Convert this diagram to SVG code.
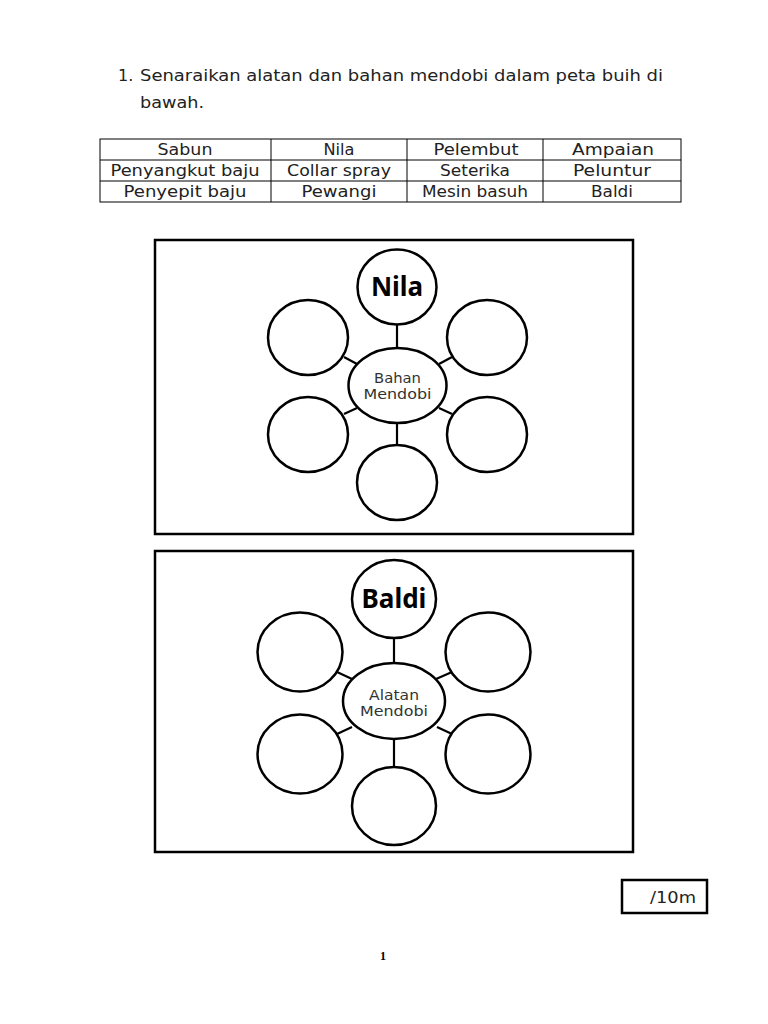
<svg xmlns="http://www.w3.org/2000/svg" width="768" height="1024" viewBox="0 0 768 1024">
<style>
.t{font-family:"DejaVu Sans","Liberation Sans",sans-serif;font-size:15px;fill:#222;}
.q{font-family:"DejaVu Sans","Liberation Sans",sans-serif;font-size:16px;fill:#222;}
.cell{text-anchor:middle;}
.bub{fill:#fff;stroke:#000;stroke-width:2.5;}
.frame{fill:none;stroke:#000;stroke-width:2.5;}
.con line{stroke:#000;stroke-width:2.2;}
.hub{font-family:"DejaVu Sans","Liberation Sans",sans-serif;font-size:14px;fill:#333;text-anchor:middle;}
.big{font-family:"Noto Sans","Open Sans",sans-serif;font-weight:bold;font-size:26px;fill:#000;text-anchor:middle;}
.grid{stroke:#000;stroke-width:1;fill:none;}
</style>
<rect width="768" height="1024" fill="#fff"/>
<g id="question">
<text class="q" x="118" y="81">1.</text>
<text class="q" x="140" y="81" textLength="523" lengthAdjust="spacingAndGlyphs">Senaraikan alatan dan bahan mendobi dalam peta buih di</text>
<text class="q" x="140" y="108" textLength="64" lengthAdjust="spacingAndGlyphs">bawah.</text>
</g>
<g id="table">
<rect class="grid" x="100" y="139" width="581" height="63"/>
<line class="grid" x1="100" y1="160" x2="681" y2="160"/>
<line class="grid" x1="100" y1="181" x2="681" y2="181"/>
<line class="grid" x1="271" y1="139" x2="271" y2="202"/>
<line class="grid" x1="407" y1="139" x2="407" y2="202"/>
<line class="grid" x1="543" y1="139" x2="543" y2="202"/>
<text class="t cell" x="185" y="155" textLength="55" lengthAdjust="spacingAndGlyphs">Sabun</text>
<text class="t cell" x="339" y="155" textLength="31" lengthAdjust="spacingAndGlyphs">Nila</text>
<text class="t cell" x="476" y="155" textLength="85" lengthAdjust="spacingAndGlyphs">Pelembut</text>
<text class="t cell" x="613" y="155" textLength="82" lengthAdjust="spacingAndGlyphs">Ampaian</text>
<text class="t cell" x="185" y="176" textLength="149" lengthAdjust="spacingAndGlyphs">Penyangkut baju</text>
<text class="t cell" x="339" y="176" textLength="104" lengthAdjust="spacingAndGlyphs">Collar spray</text>
<text class="t cell" x="475" y="176" textLength="70" lengthAdjust="spacingAndGlyphs">Seterika</text>
<text class="t cell" x="612" y="176" textLength="78" lengthAdjust="spacingAndGlyphs">Peluntur</text>
<text class="t cell" x="185" y="197" textLength="123" lengthAdjust="spacingAndGlyphs">Penyepit baju</text>
<text class="t cell" x="339" y="197" textLength="75" lengthAdjust="spacingAndGlyphs">Pewangi</text>
<text class="t cell" x="475" y="197" textLength="106" lengthAdjust="spacingAndGlyphs">Mesin basuh</text>
<text class="t cell" x="612" y="197" textLength="42" lengthAdjust="spacingAndGlyphs">Baldi</text>
</g>
<rect id="frame1" class="frame" x="155" y="240" width="478" height="294"/>
<g class="con" id="connectors1">
<line x1="397" y1="325" x2="397" y2="348"/>
<line x1="344" y1="357" x2="357" y2="364"/>
<line x1="439" y1="364" x2="452" y2="357"/>
<line x1="344" y1="414" x2="357" y2="408"/>
<line x1="439" y1="408" x2="452" y2="414"/>
<line x1="397" y1="423" x2="397" y2="445"/>
</g>
<g id="nila"><ellipse class="bub" cx="397" cy="287" rx="39.5" ry="37.5"/><text class="big" x="397" y="296">Nila</text></g>
<g id="bahan"><ellipse class="bub" cx="397.5" cy="385.5" rx="49" ry="37.5"/><text class="hub" x="397.5" y="383" textLength="47" lengthAdjust="spacingAndGlyphs">Bahan</text><text class="hub" x="397.5" y="399" textLength="68" lengthAdjust="spacingAndGlyphs">Mendobi</text></g>
<g id="b1ul"><ellipse class="bub" cx="308" cy="337.5" rx="40" ry="37.5"/></g>
<g id="b1ur"><ellipse class="bub" cx="487" cy="337.5" rx="40" ry="37.5"/></g>
<g id="b1ll"><ellipse class="bub" cx="308" cy="434.5" rx="40" ry="37.5"/></g>
<g id="b1lr"><ellipse class="bub" cx="487" cy="434.5" rx="40" ry="37.5"/></g>
<g id="b1b"><ellipse class="bub" cx="397" cy="482.5" rx="40" ry="37.5"/></g>
<rect id="frame2" class="frame" x="155" y="551" width="478" height="301"/>
<g class="con" id="connectors2">
<line x1="394" y1="638" x2="394" y2="663"/>
<line x1="337" y1="672" x2="352" y2="679"/>
<line x1="436" y1="679" x2="452" y2="672"/>
<line x1="337" y1="734" x2="352" y2="727"/>
<line x1="437" y1="727" x2="452" y2="734"/>
<line x1="394" y1="739" x2="394" y2="767"/>
</g>
<g id="baldi"><ellipse class="bub" cx="394" cy="599" rx="42" ry="39"/><text class="big" x="394" y="608">Baldi</text></g>
<g id="alatan"><ellipse class="bub" cx="394" cy="701" rx="51" ry="38"/><text class="hub" x="394" y="700" textLength="50" lengthAdjust="spacingAndGlyphs">Alatan</text><text class="hub" x="394" y="716" textLength="68" lengthAdjust="spacingAndGlyphs">Mendobi</text></g>
<g id="b2ul"><ellipse class="bub" cx="300" cy="652" rx="42.5" ry="39.5"/></g>
<g id="b2ur"><ellipse class="bub" cx="488" cy="652" rx="42.5" ry="39.5"/></g>
<g id="b2ll"><ellipse class="bub" cx="300" cy="754" rx="42.5" ry="39.5"/></g>
<g id="b2lr"><ellipse class="bub" cx="488" cy="754" rx="42.5" ry="39.5"/></g>
<g id="b2b"><ellipse class="bub" cx="394" cy="806" rx="42" ry="39"/></g>
<g id="score"><rect x="622" y="880" width="85" height="33" fill="none" stroke="#000" stroke-width="2.5"/><text class="q" x="650" y="903" textLength="46" lengthAdjust="spacingAndGlyphs">/10m</text></g>
<text x="383" y="960" font-family="Liberation Serif,serif" font-weight="bold" font-size="12" text-anchor="middle" fill="#000">1</text>
</svg>
